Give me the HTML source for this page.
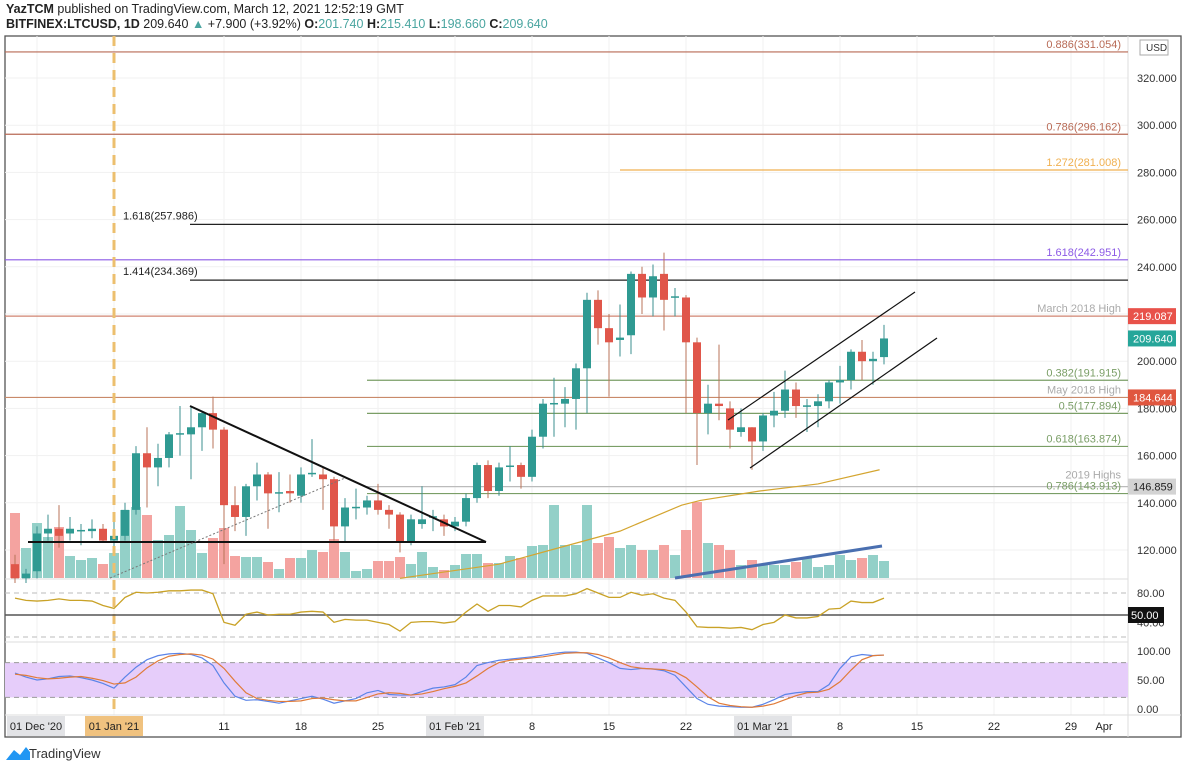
<!DOCTYPE html>
<html><head><meta charset="utf-8"><style>
html,body{margin:0;padding:0;background:#fff;}
svg{display:block;font-family:"Liberation Sans",sans-serif;}
</style></head><body>
<svg id="c" width="1186" height="768" viewBox="0 0 1186 768">
<text x="6" y="13" font-size="12.5" fill="#222"><tspan font-weight="bold">YazTCM</tspan> published on TradingView.com, March 12, 2021 12:52:19 GMT</text>
<text x="6" y="28" font-size="12.5" fill="#222"><tspan font-weight="bold">BITFINEX:LTCUSD, 1D</tspan> 209.640 <tspan fill="#4aa5a0">▲</tspan> +7.900 (+3.92%) <tspan font-weight="bold">O:</tspan><tspan fill="#4aa5a0">201.740</tspan> <tspan font-weight="bold">H:</tspan><tspan fill="#4aa5a0">215.410</tspan> <tspan font-weight="bold">L:</tspan><tspan fill="#4aa5a0">198.660</tspan> <tspan font-weight="bold">C:</tspan><tspan fill="#4aa5a0">209.640</tspan></text>
<rect x="5" y="36" width="1176" height="701" fill="none" stroke="#555" stroke-width="1.3"/>
<g id="grid"></g>
<g id="levels"></g>
<g id="vol"></g>
<g id="candles"></g>
<g id="draw"></g>
<g id="ind"></g>
<g id="axis"></g>
<g id="taxis"></g>
<g>
<path d="M6 760 L14 750 L20 755 L26 747 L30 752 L30 760 Z" fill="#2196f3"/>
<text x="29" y="758" font-size="13" fill="#333">TradingView</text>
</g>
</svg>
<script>
const NS='http://www.w3.org/2000/svg';
// OHLC data (Dec 23 2020 .. Mar 12 2021)
const opens=[114,108,111,127,129,127,128,128,129,124,126,137,161,155,159,169,169,172,178,171,139,134,147,152,144,145,143,152.5,152,150,130,138,138,141,137,135,123,131,134,133,130,132,142,156,145,155.5,156,151,168,182,182,184,197,226,214,209,211,237,227,237,227,227,208,178,182,180,170,172,166,177,179,188,181,181,183,191,192,204,200,201.74];
const closes=[108,110,127,129,126,129,128.5,129,124,126,137,161,155,159,169,169.5,172,178,171,139,134,147,152,144,144.5,144,152,152.7,150,130,138,138.3,141,137,135,123,133,133,134.3,130,132,142,156,145,155,155.8,151,168,182,182.3,184,197,226,214,208,210,237,227,236,226,227.5,208,178,182,181,171,172,166,177,179,188,181,181.3,183,191,192,204,200,201,209.64];
const highs=[118,112,130,135,139,134,131,133,131,132,140,164,172,165,170,181,181,179,185,172,147,148,157,153,153,152,155,167,155,151,142,146,143,148,139,136,135,147,137,135,134,144,157,158,157,164,157,171,184,193,189,199,229,230,220,224,238,240,241,246,231,228,210,190,207,183,180,172,178,187,196,191,184,186,192,198,205,209,204,215.41];
const lows=[106,106,108,124,121,124,122,125,123,121,124,135,138,147,155,160,150,162,163,114,128,126,141,129,136,140,140,151,137,124,123,133,135,135,129,119,122,129,128,126,128,130,140,142,143,149,146,149,163,168,172,171,178,207,185,202,203,220,219,213,219,178,156,169,175,163,168,154,162,172,176,176,170,172,180,182,188,192,190,198.66];
const volumes=[65,30,55,41,51,22,18,20,14,25,68,71,63,38,43,72,48,25,40,50,22,21,21,16,9,20,20,28,26,39,26,7,9,17,17,21,14,26,11,8,13,24,24,15,15,22,20,32,33,73,33,33,73,35,41,30,33,28,28,33,23,48,76,35,33,28,13,18,13,13,13,16,20,11,13,23,18,20,23,17];
const rsiVals=[73,70,69,70,72,70,70,69,63,59,74,81,80,81,83,83,84,84,79,40,36,51,54,50,51,51,54,55,54,40,44,43,43,40,37,28,40,41,41,39,41,54,65,55,63,63,61,70,76,76,76,79,86,80,74,74,81,77,79,73,70,54,34,33,33,32,33,30,37,40,50,46,46,48,58,59,69,67,67,73];
const stochK=[62,55,50,52,56,57,54,50,44,36,55,72,85,92,95,96,94,88,75,45,22,15,16,13,10,14,18,22,17,10,14,18,28,32,25,24,24,30,36,38,42,55,75,80,84,86,88,90,93,96,98,98,96,88,80,70,68,70,69,66,58,38,18,8,5,4,3,3,8,16,25,28,30,30,42,70,90,94,92,93];
const stochD=[60,58,54,52,53,55,56,53,49,43,45,55,71,83,91,94,95,93,86,70,48,28,18,15,13,13,14,18,19,16,14,14,20,26,28,27,24,26,30,35,39,45,57,70,80,84,86,88,90,93,96,97,97,94,88,80,73,70,69,68,64,54,38,21,10,6,4,3,5,9,16,23,28,29,34,47,67,85,92,93];
const maDays=[26,35,40.5,46,51.6,53.3,58.7,64,69.6];
const maPrices=[108,114,121,128,139,141,145,148,154];
const priceTicks=[320,300,280,260,240,200,180,160,140,120];
const rsiTicks=[80,40];
const stochTicks=[100,50,0];
const levelPrices=[331.054,296.162,281.008,257.986,242.951,234.369,219.087,191.915,184.644,177.894,163.874,146.859,143.913];
const levelLabels=['0.886(331.054)','0.786(296.162)','1.272(281.008)','1.618(257.986)','1.618(242.951)','1.414(234.369)','March 2018 High','0.382(191.915)','May 2018 High','0.5(177.894)','0.618(163.874)','2019 Highs','0.786(143.913)'];
const levelStarts=[5,5,620,190,5,190,5,367,5,367,367,367,367];
const levelColors=['#b86a55','#b86a55','#f0b050','#222','#8c5ae6','#222','#d08470','#7a9e66','#c98a6a','#7a9e66','#7a9e66','#bbb','#7a9e66'];
const dateDays=[-7,0,10,17,24,31,38,45,52,59,66,73,80,87,90];
const dateLabels=["01 Dec '20","01 Jan '21",'11','18','25',"01 Feb '21",'8','15','22',"01 Mar '21",'8','15','22','29','Apr'];

const py=p=>550-(p-120)*2.36;
const cx=i=>15+11*i;
const dx=d=>114+11*d;
const vy=v=>578-v;
const ry=v=>615-(v-50)*0.733;
const sy=v=>709-v*0.58;
function mk(parent,tag,a,name){const e=document.createElementNS(NS,tag);for(const k in a)e.setAttribute(k,a[k]);


document.getElementById(parent).appendChild(e);return e;}
function txt(parent,x,y,s,a,name){const e=mk(parent,'text',Object.assign({x:x,y:y},a),name);e.textContent=s;return e;}

// grid
priceTicks.concat([220]).forEach(p=>mk('grid','line',{x1:5,x2:1128,y1:py(p),y2:py(p),stroke:'#f1f1f1'},'h-grid'));
dateDays.forEach(d=>mk('grid','line',{x1:dx(d),x2:dx(d),y1:36,y2:715,stroke:'#f1f1f1'},'v-grid'));
mk('grid','line',{x1:5,x2:1128,y1:579,y2:579,stroke:'#ddd'},'pane-separator');
mk('grid','line',{x1:5,x2:1128,y1:642,y2:642,stroke:'#ddd'},'pane-separator');
mk('grid','line',{x1:5,x2:1181,y1:715,y2:715,stroke:'#ddd'},'time-axis-border');
mk('grid','line',{x1:1128,x2:1128,y1:36,y2:737,stroke:'#ddd'},'price-axis-border');

// levels
levelPrices.forEach((p,i)=>{const y=py(p);
 mk('levels','line',{x1:levelStarts[i],x2:1128,y1:y,y2:y,stroke:levelColors[i],'stroke-width':1.2},'level-line');
 const lab=levelLabels[i];
 const isText=lab.indexOf('High')>=0;
 let col=isText?'#aaa':levelColors[i];
 if(levelStarts[i]==190){txt('levels',123,y-5,lab,{'font-size':11,fill:'#222'},'level-label');}
 else txt('levels',1121,y-(lab=='2019 Highs'?8:4),lab,{'font-size':11,fill:col,'text-anchor':'end'},'level-label');
});

// volume
volumes.forEach((v,i)=>{const up=closes[i]>=opens[i];
 mk('vol','rect',{x:cx(i)-5,y:vy(v),width:10,height:v,fill:up?'#93d0c8':'#f4a3a0'},'volume-bar');});

// candles
opens.forEach((o,i)=>{const c=closes[i];const up=c>=o;const col=up?'#2f9a92':'#e0564a';
 mk('candles','line',{x1:cx(i),x2:cx(i),y1:py(highs[i]),y2:py(lows[i]),stroke:up?'#3b8f8f':'#b87358','stroke-width':1},'candle-wick');
 const t=py(Math.max(o,c)),b=py(Math.min(o,c));
 mk('candles','rect',{x:cx(i)-4,y:t,width:8,height:Math.max(1.5,b-t),fill:col},'candle-body');});

// MA line
mk('draw','polyline',{points:maDays.map((d,i)=>dx(d)+','+py(maPrices[i])).join(' '),fill:'none',stroke:'#d4a530','stroke-width':1.2},'moving-average');
// drawings
mk('draw','line',{x1:28,y1:542,x2:486,y2:542,stroke:'#111','stroke-width':2},'triangle-support');
mk('draw','line',{x1:190,y1:406,x2:486,y2:542,stroke:'#111','stroke-width':2},'triangle-resistance');
mk('draw','line',{x1:110,y1:578,x2:345,y2:478,stroke:'#777','stroke-width':1,'stroke-dasharray':'2,2'},'dotted-trendline');
mk('draw','line',{x1:728,y1:420,x2:915,y2:292,stroke:'#111','stroke-width':1.2},'channel-upper');
mk('draw','line',{x1:750,y1:468,x2:937,y2:338,stroke:'#111','stroke-width':1.2},'channel-lower');
mk('draw','line',{x1:675,y1:578,x2:882,y2:546,stroke:'#4a6fb0','stroke-width':3},'volume-trendline');
mk('draw','line',{x1:114,y1:36,x2:114,y2:715,stroke:'#ecbf6e','stroke-width':3,'stroke-dasharray':'10,7'},'jan-1-marker');

// RSI pane
mk('ind','line',{x1:5,x2:1128,y1:ry(80),y2:ry(80),stroke:'#bbb','stroke-dasharray':'5,4'},'rsi-upper-band');
mk('ind','line',{x1:5,x2:1128,y1:ry(20),y2:ry(20),stroke:'#bbb','stroke-dasharray':'5,4'},'rsi-lower-band');
mk('ind','line',{x1:5,x2:1128,y1:ry(50),y2:ry(50),stroke:'#555','stroke-width':1.5},'rsi-50-line');
mk('ind','polyline',{points:rsiVals.map((v,i)=>cx(i)+','+ry(v)).join(' '),fill:'none',stroke:'#c9a227','stroke-width':1.3},'rsi-line');
// Stoch pane
mk('ind','rect',{x:5,y:sy(80),width:1123,height:sy(20)-sy(80),fill:'#e6cdfa'},'stoch-band');
mk('ind','line',{x1:5,x2:1128,y1:sy(80),y2:sy(80),stroke:'#999','stroke-dasharray':'5,4'},'stoch-upper');
mk('ind','line',{x1:5,x2:1128,y1:sy(20),y2:sy(20),stroke:'#999','stroke-dasharray':'5,4'},'stoch-lower');
mk('ind','polyline',{points:stochK.map((v,i)=>cx(i)+','+sy(v)).join(' '),fill:'none',stroke:'#5b84e8','stroke-width':1.2},'stoch-k-line');
mk('ind','polyline',{points:stochD.map((v,i)=>cx(i)+','+sy(v)).join(' '),fill:'none',stroke:'#e07b39','stroke-width':1.2},'stoch-d-line');

// price axis
priceTicks.forEach(p=>txt('axis',1137,py(p)+4,p.toFixed(3),{'font-size':11,fill:'#333'},'price-tick'));
mk('axis','rect',{x:1140,y:40,width:28,height:15,fill:'#fff',stroke:'#aaa'},'currency-box');
txt('axis',1146,51,'USD',{'font-size':10,fill:'#333'},'currency-label');
[[219.087,'#e8524a','#fff'],[209.64,'#26a69a','#fff'],[184.644,'#e0563f','#fff'],[146.859,'#d3d3d3','#222']].forEach(t=>{
 mk('axis','rect',{x:1128,y:py(t[0])-8,width:48,height:16,fill:t[1]},'price-tag');
 txt('axis',1133,py(t[0])+4,t[0].toFixed(3),{'font-size':11,fill:t[2]},'price-tag-label');});
rsiTicks.forEach(v=>txt('axis',1137,ry(v)+4,v.toFixed(2),{'font-size':11,fill:'#333'},'rsi-tick'));
mk('axis','rect',{x:1128,y:ry(50)-8,width:36,height:16,fill:'#111'},'rsi-50-tag');
txt('axis',1131,ry(50)+4,'50.00',{'font-size':11,fill:'#fff'},'rsi-50-tag-label');
stochTicks.forEach(v=>txt('axis',1137,sy(v)+4,v.toFixed(2),{'font-size':11,fill:'#333'},'stoch-tick'));

// time axis
dateDays.forEach((d,i)=>{const lab=dateLabels[i];const x=dx(d);
 if(lab.length>4){const w=58;const xx=(i==0)?7:x-29;
  mk('taxis','rect',{x:xx,y:716,width:w,height:20,fill:i==1?'#f0c27f':'#e2e3e6'},'date-highlight');
  txt('taxis',xx+w/2,730,lab,{'font-size':11,fill:'#222','text-anchor':'middle'},'date-label');}
 else txt('taxis',x,730,lab,{'font-size':11,fill:'#222','text-anchor':'middle'},'date-label');});
</script>
</body></html>
